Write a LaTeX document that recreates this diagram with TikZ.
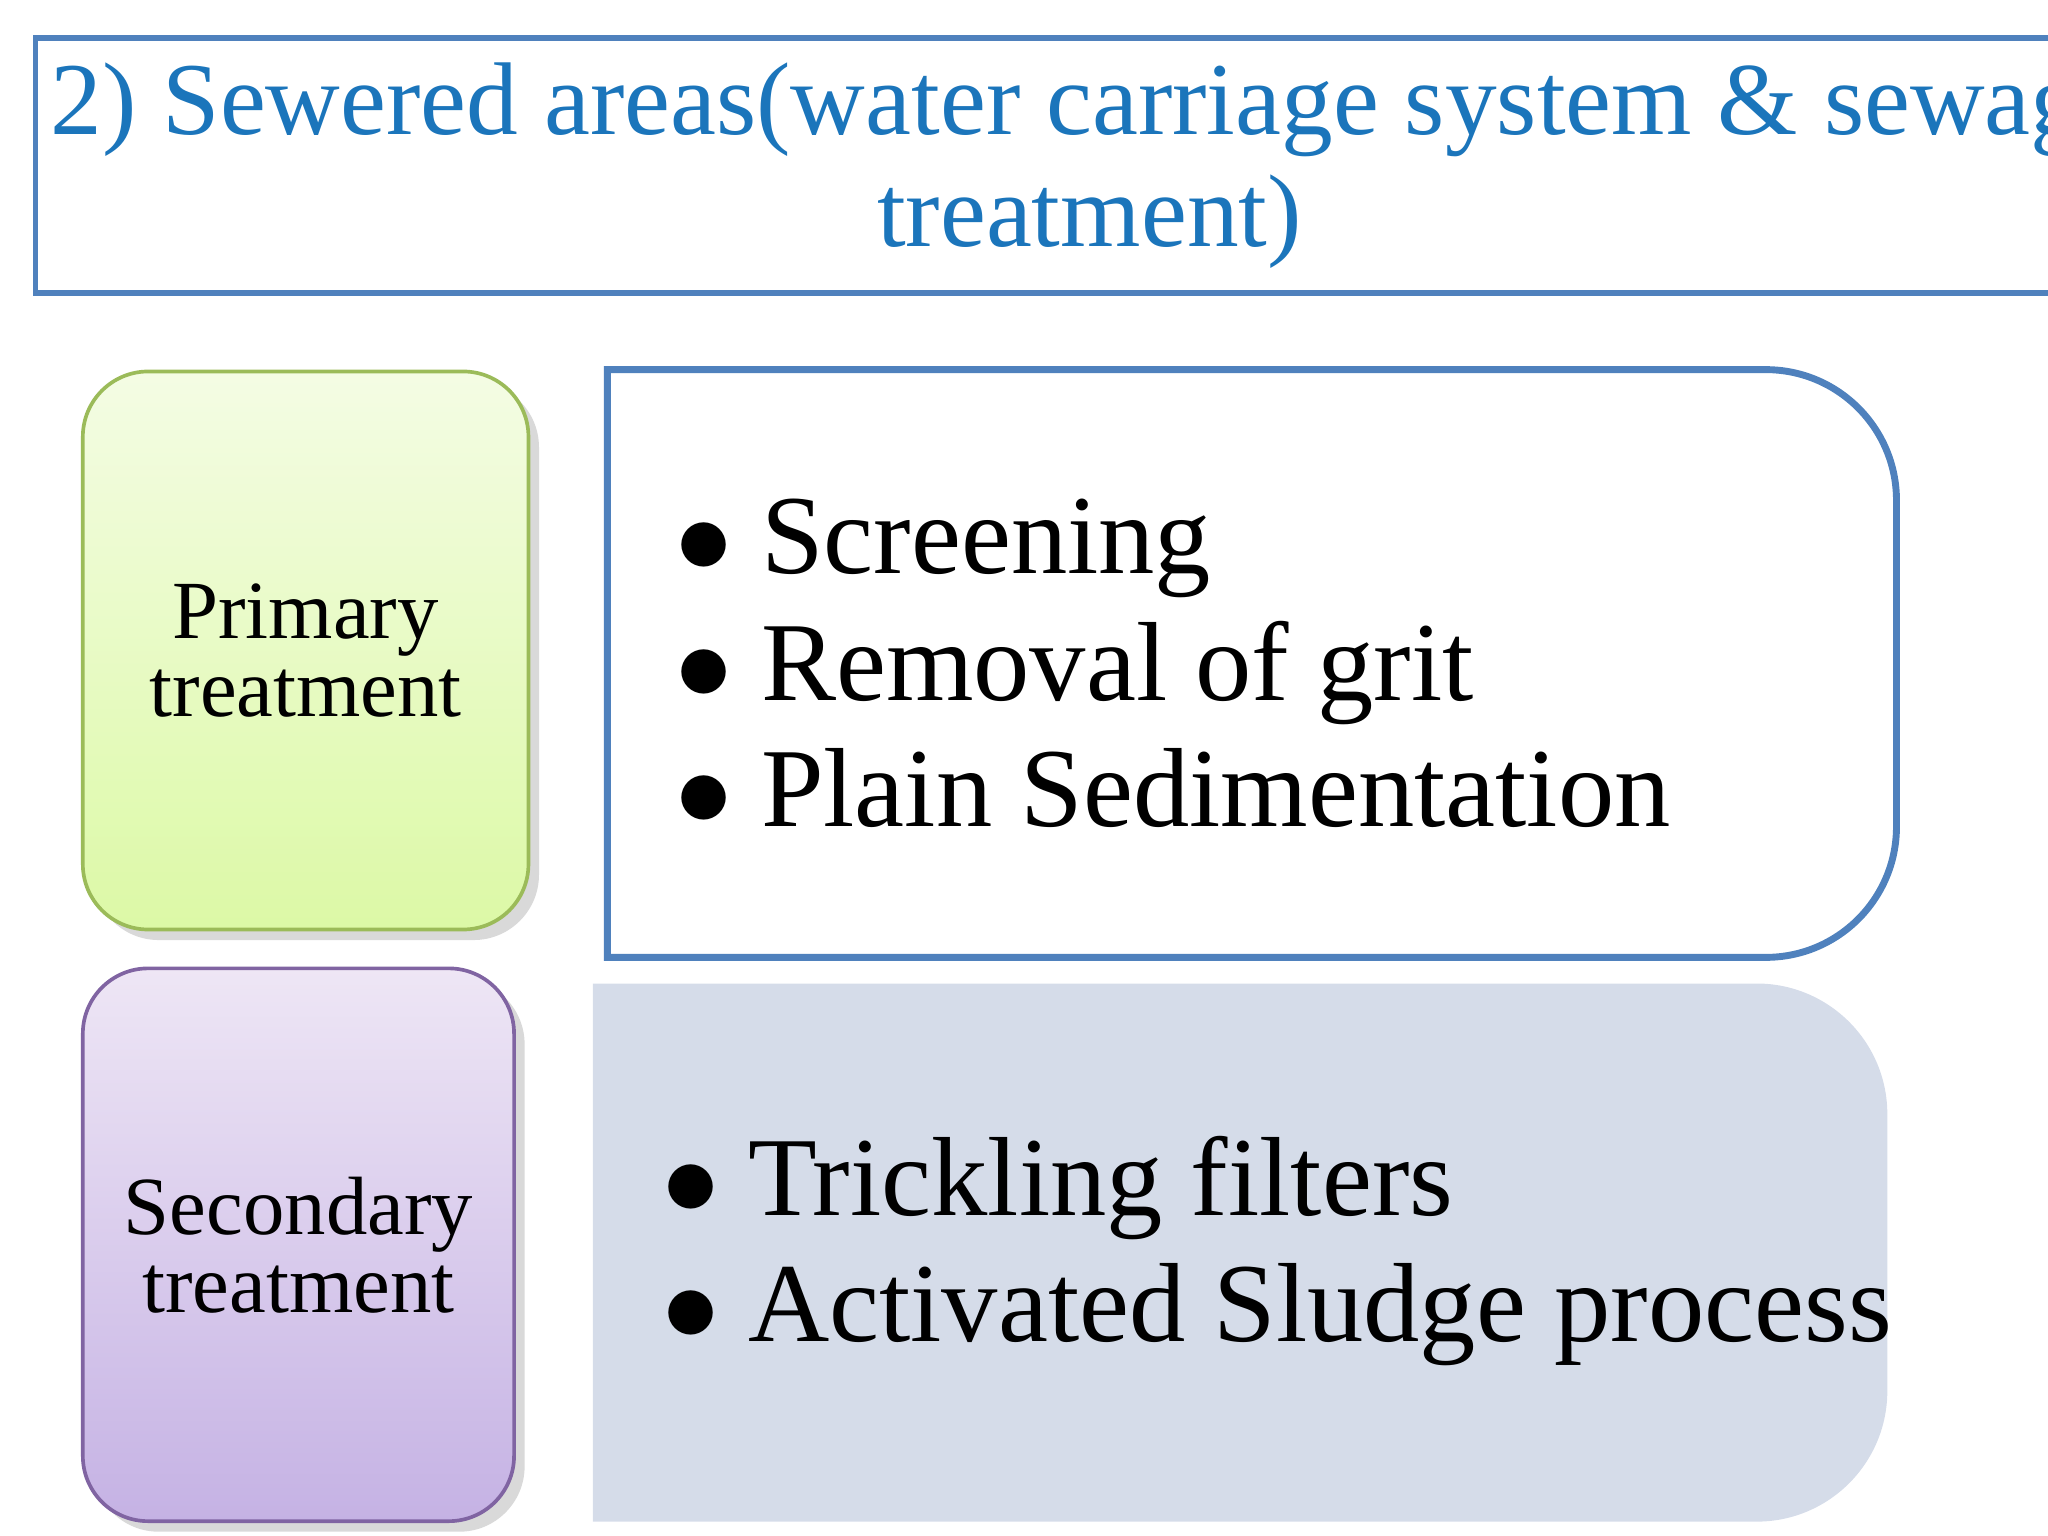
\documentclass[tikz,border=0pt]{standalone}
\usepackage{fontspec}
\setmainfont{Liberation Serif}
\usetikzlibrary{shadows}
\definecolor{titleblue}{HTML}{1B75BB}
\definecolor{boxblue}{HTML}{4F81BD}
\definecolor{greentop}{HTML}{F4FCE4}
\definecolor{greenbot}{HTML}{DCF9A6}
\definecolor{greenline}{HTML}{9BBB59}
\definecolor{purptop}{HTML}{EEE6F5}
\definecolor{purpbot}{HTML}{C5B2E4}
\definecolor{purpline}{HTML}{8064A2}
\definecolor{panelgray}{HTML}{D5DCE9}
\begin{document}
\begin{tikzpicture}[x=0.01cm,y=-0.01cm,
  stage/.style={rounded corners=0.5cm,line width=0.8pt,drop shadow={opacity=0.3},
    align=center,font=\fontsize{18}{17}\selectfont,anchor=north west,inner sep=0pt},
  items/.style={anchor=west,align=left,font=\fontsize{24.5}{27.5}\selectfont}]
\useasboundingbox (0,0) rectangle (1568,1176);
% title
\node[draw=boxblue,line width=1.2pt,minimum width=15.3cm,minimum height=1.95cm,
  anchor=north west,align=center,text=titleblue,font=\fontsize{22.5}{24.5}\selectfont]
  (title) at (25,27) {2) Sewered areas(water carriage system \& sewage\\treatment)};
% left boxes
\node[stage,draw=greenline,top color=greentop,bottom color=greenbot,
  minimum width=3.41cm,minimum height=4.27cm] (primary) at (62,283) {Primary\\treatment};
\node[stage,draw=purpline,top color=purptop,bottom color=purpbot,
  minimum width=3.30cm,minimum height=4.23cm] (secondary) at (62,740) {Secondary\\treatment};
% right panels
\draw[boxblue,line width=1.5pt,fill=white] (465,733) [sharp corners] -- (465,283)
  [rounded corners=1cm] -- (1452,283) -- (1452,733) [sharp corners] -- cycle;
\fill[panelgray] (454,1165) [sharp corners] -- (454,753)
  [rounded corners=1cm] -- (1445,753) -- (1445,1165) [sharp corners] -- cycle;
\node[items] (primlist) at (505,508) {$\bullet$ Screening\\$\bullet$ Removal of grit\\$\bullet$ Plain Sedimentation};
\node[items] (seclist) at (495,958) {$\bullet$ Trickling filters\\$\bullet$ Activated Sludge process};
\end{tikzpicture}
\end{document}
